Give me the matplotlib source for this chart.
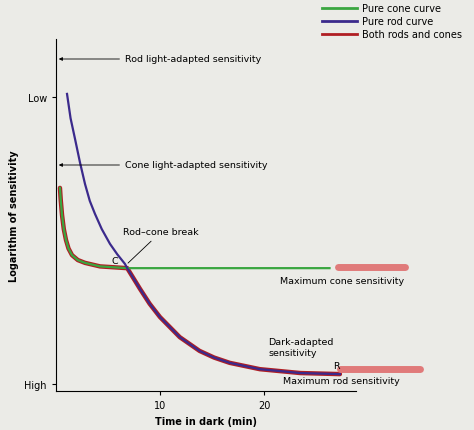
import matplotlib
matplotlib.use("Agg")
import matplotlib.pyplot as plt

# data (x in minutes, y in arbitrary log-sensitivity units, 0 = high sensitivity)
rod_x = [1.06, 1.4, 1.83, 2.3, 2.79, 3.25, 3.75, 4.4, 5.19, 5.9, 6.63, 6.85, 8.08, 9.0, 10.0, 11.0, 11.9, 13.8, 15.2, 16.7, 19.6, 23.5, 27.3]
rod_y = [8.44, 7.75, 7.16, 6.50, 5.88, 5.40, 5.03, 4.60, 4.18, 3.88, 3.61, 3.49, 2.90, 2.48, 2.10, 1.80, 1.53, 1.14, 0.95, 0.80, 0.62, 0.51, 0.48]
cone_x = [0.38, 0.45, 0.58, 0.75, 0.96, 1.2, 1.54, 2.1, 2.79, 4.23, 6.85, 26.3]
cone_y = [5.77, 5.45, 5.00, 4.60, 4.29, 4.05, 3.86, 3.72, 3.64, 3.54, 3.49, 3.49]
both_x = [0.38, 0.45, 0.58, 0.75, 0.96, 1.2, 1.54, 2.1, 2.79, 4.23, 6.85, 8.08, 9.0, 10.0, 11.0, 11.9, 13.8, 15.2, 16.7, 19.6, 23.5, 27.3]
both_y = [5.77, 5.45, 5.00, 4.60, 4.29, 4.05, 3.86, 3.72, 3.64, 3.54, 3.49, 2.90, 2.48, 2.10, 1.80, 1.53, 1.14, 0.95, 0.80, 0.62, 0.51, 0.48]
xticks = [10, 20]

W, H = 474, 431
fig = plt.figure(figsize=(W/100, H/100), dpi=100, facecolor="#ebebe7")
ax = fig.add_axes([56/W, 39/H, 300/W, 352/H])
ax.set_facecolor("#ebebe7")
px = lambda p: (p - 56) / 10.4
py = lambda p: (392 - p) / 35.2
ax.set_xlim(0, px(356)); ax.set_ylim(0, py(40))
for s in ["top", "right"]:
    ax.spines[s].set_visible(False)

ax.plot(both_x, both_y, color="#b01e23", lw=3.2, solid_capstyle="round", solid_joinstyle="round")
ax.plot(cone_x, cone_y, color="#3aa640", lw=1.6, solid_joinstyle="round")
ax.plot(rod_x, rod_y, color="#3b2a8c", lw=1.6, solid_joinstyle="round")

ax.set_xticks(xticks)
ax.set_xticklabels([str(t) for t in xticks], fontsize=7)
ax.set_yticks([py(98), py(385)])
ax.set_yticklabels(["Low", "High"], fontsize=7)
ax.tick_params(length=3)
ax.set_xlabel("Time in dark (min)", fontsize=7, fontweight="bold")
ax.set_ylabel("Logarithm of sensitivity", fontsize=7, fontweight="bold")

ap = dict(arrowstyle="-|>", color="black", lw=0.6, mutation_scale=5)
ax.annotate("Rod light-adapted sensitivity", xy=(0, py(60)), xytext=(px(125), py(60)),
            fontsize=6.8, va="center", arrowprops=ap)
ax.annotate("Cone light-adapted sensitivity", xy=(0, py(166)), xytext=(px(125), py(166)),
            fontsize=6.8, va="center", arrowprops=ap)
ax.annotate("Rod\u2013cone break", xy=(px(126), py(266)), xytext=(px(123), py(233)),
            fontsize=6.8, va="center", arrowprops=dict(arrowstyle="-", color="black", lw=0.6))
ax.text(px(111), py(262), "C", fontsize=6.8, va="center")
ax.text(px(280), py(282), "Maximum cone sensitivity", fontsize=6.8, va="center")
ax.text(px(268), py(348), "Dark-adapted\nsensitivity", fontsize=6.8, va="center")
ax.text(px(333), py(367), "R", fontsize=6.8, va="center")
ax.text(px(283), py(382), "Maximum rod sensitivity", fontsize=6.8, va="center")

# simple cone/rod cell sketches
ax.plot([px(338), px(405)], [py(268)]*2, color="#e07a7a", lw=5, clip_on=False, solid_capstyle="round")
ax.plot([px(340), px(420)], [py(370)]*2, color="#e07a7a", lw=5, clip_on=False, solid_capstyle="round")

# legend
items = [("Pure cone curve", "#3aa640"), ("Pure rod curve", "#3b2a8c"), ("Both rods and cones", "#b01e23")]
for i, (lab, c) in enumerate(items):
    y = 1 - (9 + 13 * i) / H
    fig.add_artist(plt.Line2D([322/W, 357/W], [y, y], color=c, lw=2))
    fig.text(362/W, y, lab, fontsize=7, va="center")

fig.savefig("out.png", dpi=100, facecolor=fig.get_facecolor())
